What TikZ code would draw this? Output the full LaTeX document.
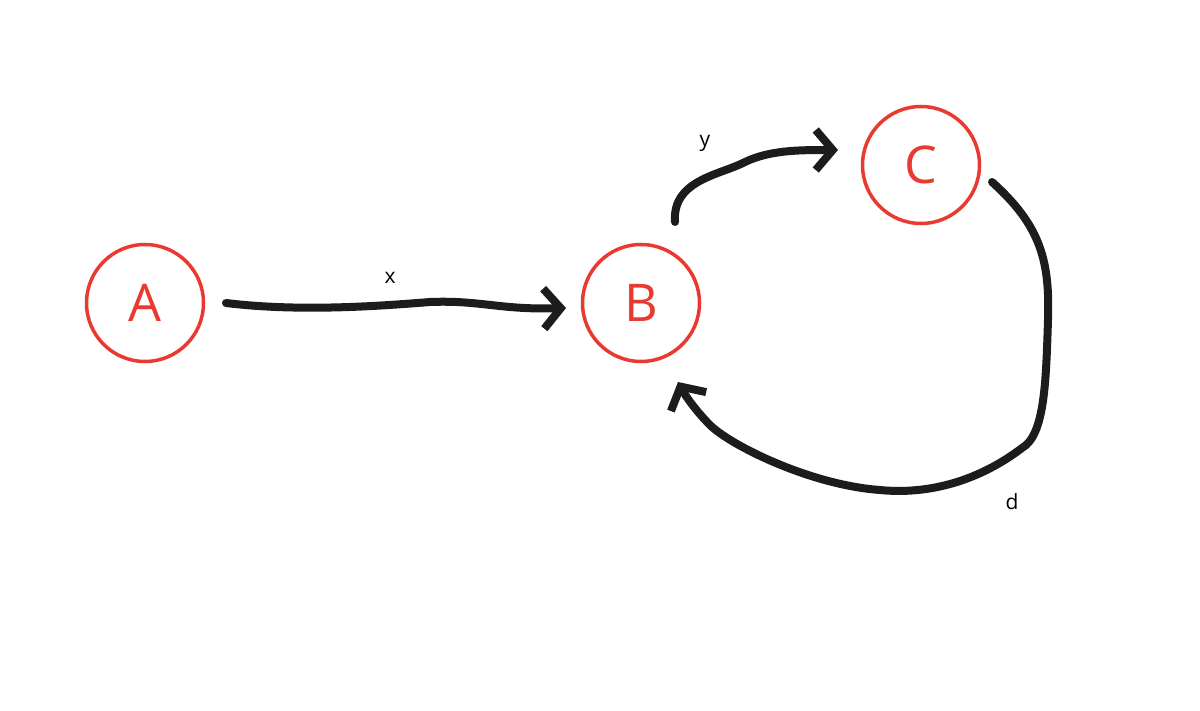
\documentclass[tikz,border=0pt]{standalone}
\usepackage{fontspec}
\setmainfont{Open Sans}
\usetikzlibrary{arrows.meta}
\definecolor{nred}{RGB}{232,58,48}
\definecolor{ink}{RGB}{28,28,28}
\begin{document}
\begin{tikzpicture}[x=1pt,y=-1pt,
  st/.style={circle,draw=nred,line width=3.5pt,minimum size=117pt,inner sep=0pt,text=nred,font=\fontsize{52}{52}\selectfont},
  con/.style={draw=ink,line width=8pt,line cap=round,line join=round,-{Straight Barb[length=17pt,width=40pt,line width=8pt]}},
  lab/.style={font=\fontsize{21}{21}\selectfont}]
\useasboundingbox (0,0) rectangle (1200,711);
\node[st] (A) at (145,303) {A};
\node[st] (B) at (641,303) {B};
\node[st] (C) at (921,165) {C};
\coordinate (a0) at (226,303);
\coordinate (b0) at (675,222);
\coordinate (c0) at (992,182);
\draw[con] (a0) .. controls (300,312) and (380,306) .. (430,302) .. controls (480,300) and (500,310) .. (566,308);
\draw[con] (b0) .. controls (672,180) and (720,175) .. (745,162) .. controls (770,150) and (800,150) .. (838,150);
\draw[con] (c0) .. controls (1040,225) and (1050,260) .. (1048,320) .. controls (1046,380) and (1045,435) .. (1022,448) .. controls (980,480) and (930,495) .. (880,490) .. controls (810,485) and (730,445) .. (710,425) .. controls (695,410) and (685,395) .. (678,382);
\node[lab] (lx) at (390,278) {x};
\node[lab] (ly) at (705,143) {y};
\node[lab] (ld) at (1012,502) {d};
\end{tikzpicture}
\end{document}
